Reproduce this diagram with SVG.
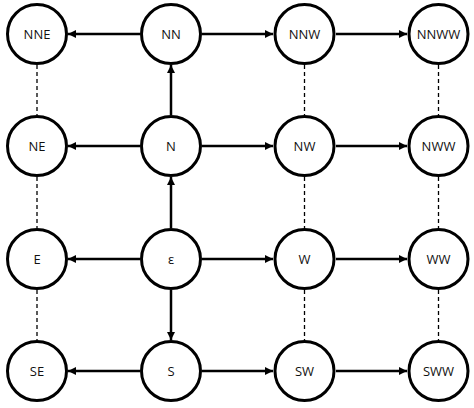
<svg xmlns="http://www.w3.org/2000/svg" width="474" height="408" viewBox="0 0 474 408">
<style>
.node circle{fill:#fff;stroke:#000;stroke-width:3}
.node text{font-family:"Open Sans","Noto Sans",sans-serif;font-size:13px;fill:#111;text-anchor:middle;dominant-baseline:central}
.arr{stroke:#000;stroke-width:2.5;fill:none;marker-end:url(#ah)}
.dash{stroke:#000;stroke-width:1.3;stroke-dasharray:4 3;fill:none}
</style>
<defs>
<marker id="ah" viewBox="0 0 8 8" refX="8" refY="4" markerWidth="8" markerHeight="8" markerUnits="userSpaceOnUse" orient="auto">
<path d="M0,0 L8,4 L0,8 Z" fill="#000"/>
</marker>
</defs>
<rect width="474" height="408" fill="#fff"/>
<g id="connectors">
<line class="arr" x1="140" y1="34" x2="68" y2="34"/>
<line class="arr" x1="202" y1="34" x2="273" y2="34"/>
<line class="arr" x1="336" y1="34" x2="407" y2="34"/>
<line class="arr" x1="140" y1="146" x2="68" y2="146"/>
<line class="arr" x1="202" y1="146" x2="273" y2="146"/>
<line class="arr" x1="336" y1="146" x2="407" y2="146"/>
<line class="arr" x1="140" y1="259" x2="68" y2="259"/>
<line class="arr" x1="202" y1="259" x2="273" y2="259"/>
<line class="arr" x1="336" y1="259" x2="407" y2="259"/>
<line class="arr" x1="140" y1="371" x2="68" y2="371"/>
<line class="arr" x1="202" y1="371" x2="273" y2="371"/>
<line class="arr" x1="336" y1="371" x2="407" y2="371"/>
<line class="arr" x1="171" y1="115" x2="171" y2="65"/>
<line class="arr" x1="171" y1="228" x2="171" y2="177"/>
<line class="arr" x1="171" y1="290" x2="171" y2="340"/>
<line class="dash" x1="37" y1="65" x2="37" y2="115"/>
<line class="dash" x1="37" y1="177" x2="37" y2="228"/>
<line class="dash" x1="37" y1="290" x2="37" y2="340"/>
<line class="dash" x1="304.5" y1="65" x2="304.5" y2="115"/>
<line class="dash" x1="304.5" y1="177" x2="304.5" y2="228"/>
<line class="dash" x1="304.5" y1="290" x2="304.5" y2="340"/>
<line class="dash" x1="438.5" y1="65" x2="438.5" y2="115"/>
<line class="dash" x1="438.5" y1="177" x2="438.5" y2="228"/>
<line class="dash" x1="438.5" y1="290" x2="438.5" y2="340"/>
</g>
<g id="NNE" class="node"><circle cx="37" cy="34" r="29.5"/><text x="37" y="34">NNE</text></g>
<g id="NN" class="node"><circle cx="171" cy="34" r="29.5"/><text x="171" y="34">NN</text></g>
<g id="NNW" class="node"><circle cx="304.5" cy="34" r="29.5"/><text x="304.5" y="34">NNW</text></g>
<g id="NNWW" class="node"><circle cx="438.5" cy="34" r="29.5"/><text x="438.5" y="34">NNWW</text></g>
<g id="NE" class="node"><circle cx="37" cy="146" r="29.5"/><text x="37" y="146">NE</text></g>
<g id="N" class="node"><circle cx="171" cy="146" r="29.5"/><text x="171" y="146">N</text></g>
<g id="NW" class="node"><circle cx="304.5" cy="146" r="29.5"/><text x="304.5" y="146">NW</text></g>
<g id="NWW" class="node"><circle cx="438.5" cy="146" r="29.5"/><text x="438.5" y="146">NWW</text></g>
<g id="E" class="node"><circle cx="37" cy="259" r="29.5"/><text x="37" y="259">E</text></g>
<g id="eps" class="node"><circle cx="171" cy="259" r="29.5"/><text x="171" y="259">ε</text></g>
<g id="W" class="node"><circle cx="304.5" cy="259" r="29.5"/><text x="304.5" y="259">W</text></g>
<g id="WW" class="node"><circle cx="438.5" cy="259" r="29.5"/><text x="438.5" y="259">WW</text></g>
<g id="SE" class="node"><circle cx="37" cy="371" r="29.5"/><text x="37" y="371">SE</text></g>
<g id="S" class="node"><circle cx="171" cy="371" r="29.5"/><text x="171" y="371">S</text></g>
<g id="SW" class="node"><circle cx="304.5" cy="371" r="29.5"/><text x="304.5" y="371">SW</text></g>
<g id="SWW" class="node"><circle cx="438.5" cy="371" r="29.5"/><text x="438.5" y="371">SWW</text></g>
</svg>
